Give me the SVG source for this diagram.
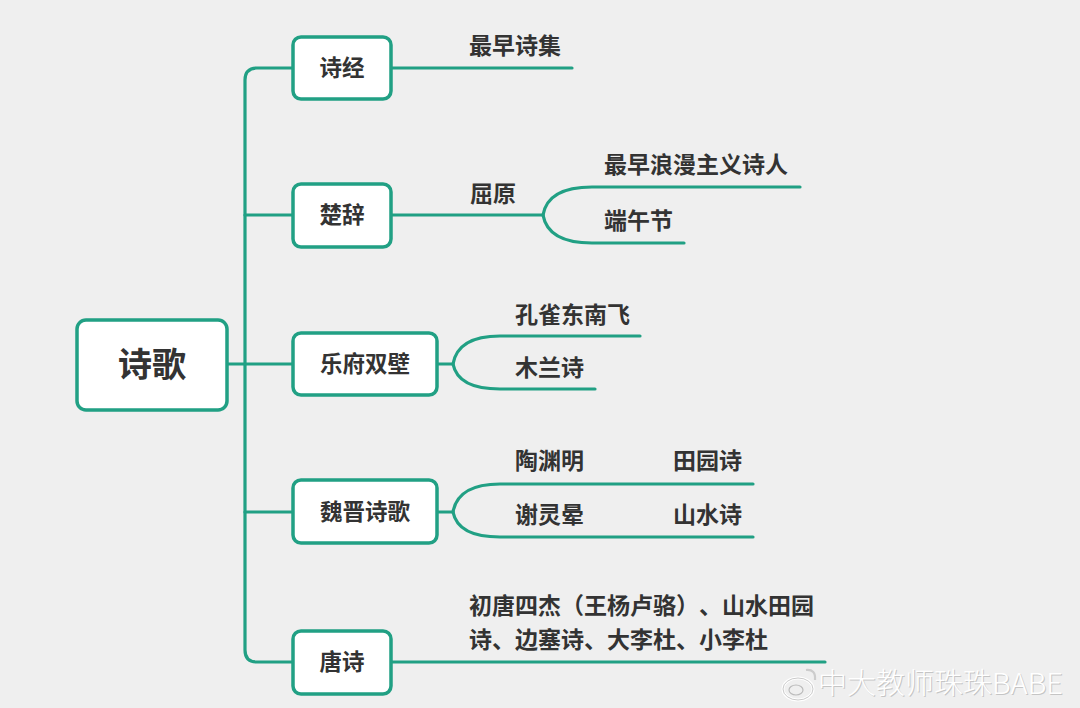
<svg xmlns="http://www.w3.org/2000/svg" width="1080" height="708" viewBox="0 0 1080 708">
<style>
.box{fill:#ffffff;stroke:#21a084;stroke-width:3.5}
.ln{fill:none;stroke:#21a084;stroke-width:3.2;stroke-linecap:round;stroke-linejoin:round}
.t{font-family:"Noto Sans CJK SC","Noto Sans",sans-serif;font-weight:bold;fill:#333333;font-size:23px}
.nt{font-family:"Noto Sans CJK SC","Noto Sans",sans-serif;font-weight:bold;fill:#333333;font-size:22.5px;text-anchor:middle}
.wm{font-family:"Noto Sans CJK SC","Noto Sans",sans-serif;font-size:29px;font-weight:300}
</style>
<rect width="1080" height="708" fill="#efefef"/>
<g id="connectors">
<path class="ln" d="M227,364 H245"/>
<path class="ln" d="M293,68 H257 Q245,68 245,80 V650 Q245,662 257,662 H293"/>
<path class="ln" d="M245,215 H293"/>
<path class="ln" d="M245,364 H293"/>
<path class="ln" d="M245,512 H293"/>
<path class="ln" d="M391,68 H572"/>
<path class="ln" d="M391,215 H543"/>
<path class="ln" d="M543,215 Q548,187 592,187 H800"/>
<path class="ln" d="M543,215 Q548,243 592,243 H684"/>
<path class="ln" d="M437,364 H453"/>
<path class="ln" d="M453,364 Q458,336 500,336 H640"/>
<path class="ln" d="M453,364 Q458,389 500,389 H595"/>
<path class="ln" d="M437,512 H453"/>
<path class="ln" d="M453,512 Q458,484 500,484 H753"/>
<path class="ln" d="M453,512 Q458,537 500,537 H753"/>
<path class="ln" d="M391,662 H825"/>
</g>
<g id="root"><rect class="box" x="77" y="320" width="150" height="90" rx="9"/><text class="nt" x="152" y="377" style="font-size:34px">诗歌</text></g>
<g id="shijing"><rect class="box" x="293" y="37" width="98" height="62" rx="8"/><text class="nt" x="342" y="76">诗经</text></g>
<g id="chuci"><rect class="box" x="293" y="184" width="98" height="63" rx="8"/><text class="nt" x="342" y="223">楚辞</text></g>
<g id="yuefu"><rect class="box" x="293" y="333" width="144" height="62" rx="8"/><text class="nt" x="365" y="372">乐府双壁</text></g>
<g id="weijin"><rect class="box" x="293" y="480" width="144" height="63" rx="8"/><text class="nt" x="365" y="520">魏晋诗歌</text></g>
<g id="tangshi"><rect class="box" x="293" y="631" width="98" height="63" rx="8"/><text class="nt" x="342" y="670">唐诗</text></g>
<g id="labels">
<text class="t" x="469" y="54">最早诗集</text>
<text class="t" x="470" y="202">屈原</text>
<text class="t" x="604" y="173">最早浪漫主义诗人</text>
<text class="t" x="604" y="229">端午节</text>
<text class="t" x="515" y="323">孔雀东南飞</text>
<text class="t" x="515" y="376">木兰诗</text>
<text class="t" x="515" y="469">陶渊明</text>
<text class="t" x="673" y="469">田园诗</text>
<text class="t" x="515" y="523">谢灵晕</text>
<text class="t" x="673" y="523">山水诗</text>
<text class="t" x="469 492 515 538 561 584 607 630 653 676 699 722 745 768 791" y="614">初唐四杰（王杨卢骆）、山水田园</text>
<text class="t" x="469 492 515 538 561 584 607 630 653 676 699 722 745" y="648">诗、边塞诗、大李杜、小李杜</text>
</g>
<g id="watermark">
<ellipse cx="798" cy="689" rx="15" ry="11" fill="none" stroke="#ffffff" stroke-width="3"/>
<ellipse cx="798" cy="689" rx="15" ry="11" fill="none" stroke="#bbbbbb" stroke-width="0.8"/>
<ellipse cx="796" cy="690" rx="7" ry="5" fill="none" stroke="#bbbbbb" stroke-width="1.2"/>
<path d="M806,670 Q816,669 815,680" fill="none" stroke="#cccccc" stroke-width="2.2"/>
<text class="wm" x="819" y="695" fill="#aaaaaa" opacity="0.6">中大教师珠珠BABE</text>
<text class="wm" x="818" y="694" fill="#ffffff">中大教师珠珠BABE</text>
</g>
</svg>
